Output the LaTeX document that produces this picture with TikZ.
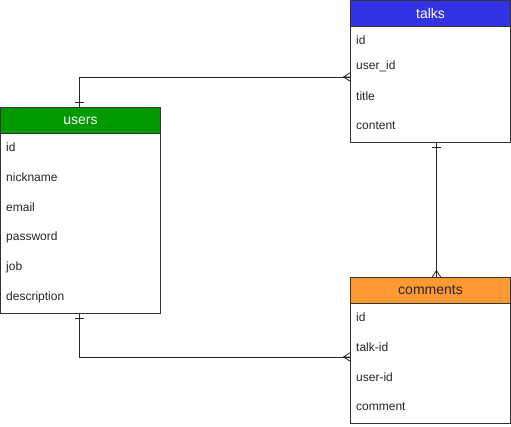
\documentclass[tikz,border=0pt]{standalone}
\usepackage{fontspec}
\setmainfont{Liberation Sans}
\usetikzlibrary{calc}
\definecolor{hgreen}{HTML}{009900}
\definecolor{hblue}{HTML}{3333E6}
\definecolor{horange}{HTML}{FF9933}
\definecolor{edge}{HTML}{333333}
\tikzset{
  entity/.style={draw=edge, line width=0.9pt, fill=white, anchor=north west, minimum width=160pt, inner sep=0pt, outer sep=0pt},
  header/.style={draw=edge, line width=0.9pt, anchor=north west, minimum width=160pt, minimum height=26pt, inner sep=0pt, outer sep=0pt, font=\fontsize{14}{16}\selectfont},
  field/.style={anchor=west, inner sep=0pt, font=\fontsize{12}{14}\selectfont, text=black!85},
  rel/.style={draw=black!85, line width=0.8pt},
  onemark/.pic={\draw[black!85, line width=0.8pt] (5,-4.5) -- (5,4.5);},
  manymark/.pic={\draw[black!85, line width=0.8pt] (0,-4.5) -- (7,0) -- (0,4.5) (0,0) -- (7,0);}
}
\begin{document}
\begin{tikzpicture}[x=1pt,y=-1pt]
\useasboundingbox (0,0) rectangle (511,427);
% users
\node[entity, minimum height=206pt] (users) at (0.5,107.5) {};
\node[header, fill=hgreen, text=white] (usersh) at (0.5,107.5) {users};
\node[field] (u1) at (6,147) {id};
\node[field] (u2) at (6,177) {nickname};
\node[field] (u3) at (6,207) {email};
\node[field] (u4) at (6,237) {password};
\node[field] (u5) at (6,267) {job};
\node[field] (u6) at (6,297) {description};
% talks
\node[entity, minimum height=142pt] (talks) at (350.5,0.5) {};
\node[header, fill=hblue, text=white] (talksh) at (350.5,0.5) {talks};
\node[field] (t1) at (356,40) {id};
\node[field] (t2) at (356,66) {user\_id};
\node[field] (t3) at (356,96) {title};
\node[field] (t4) at (356,126) {content};
% comments
\node[entity, minimum height=146pt] (comments) at (350.5,277.5) {};
\node[header, fill=horange, text=black!85] (commentsh) at (350.5,277.5) {comments};
\node[field] (c1) at (356,317) {id};
\node[field] (c2) at (356,347) {talk-id};
\node[field] (c3) at (356,377) {user-id};
\node[field] (c4) at (356,407) {comment};
% connector points
\coordinate (ua) at (79,107.5);
\coordinate (ub) at (79,313.5);
\coordinate (ta) at (350.5,77);
\coordinate (tb) at (436.5,142.5);
\coordinate (ca) at (436.5,277.5);
\coordinate (cb) at (350.5,357);
% relations
\draw[rel] (ua) |- (ta);
\pic[rotate=90] at (ua) {onemark};
\pic[rotate=180] at (ta) {manymark};
\draw[rel] (tb) -- (ca);
\pic[rotate=-90] at (tb) {onemark};
\pic[rotate=90] at (ca) {manymark};
\draw[rel] (ub) |- (cb);
\pic[rotate=-90] at (ub) {onemark};
\pic[rotate=180] at (cb) {manymark};
\end{tikzpicture}
\end{document}
